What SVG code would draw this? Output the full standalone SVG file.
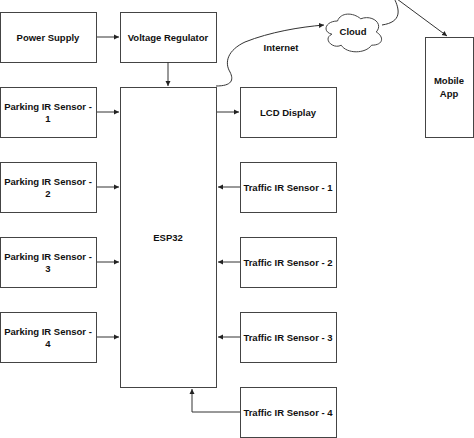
<svg xmlns="http://www.w3.org/2000/svg" width="474" height="438" viewBox="0 0 474 438">
<defs>
<marker id="ah" markerWidth="6" markerHeight="6" refX="5" refY="3" orient="auto" markerUnits="userSpaceOnUse">
<path d="M0,0.5 L5,3 L0,5.5 Z" fill="#222"/>
</marker>
<style>
.box{fill:#fff;stroke:#444;stroke-width:1}
.t{font-family:"Liberation Sans",Arial,sans-serif;font-size:9.5px;font-weight:bold;fill:#111;text-anchor:middle}
.c{fill:none;stroke:#333;stroke-width:1}
</style>
</defs>
<rect width="474" height="438" fill="#fff"/>
<g id="power-supply"><rect class="box" x="0.5" y="12.5" width="96" height="50"/><text class="t" x="48" y="41">Power Supply</text></g>
<g id="voltage-regulator"><rect class="box" x="120.5" y="12.5" width="96" height="50"/><text class="t" x="168" y="41">Voltage Regulator</text></g>
<g id="esp32"><rect class="box" x="120.5" y="87.5" width="96" height="300"/><text class="t" x="168" y="241">ESP32</text></g>
<g id="parking1"><rect class="box" x="0.5" y="87.5" width="96" height="50"/><text class="t" x="48" y="110">Parking IR Sensor -</text><text class="t" x="48" y="122">1</text></g>
<g id="parking2"><rect class="box" x="0.5" y="162.5" width="96" height="50"/><text class="t" x="48" y="185">Parking IR Sensor -</text><text class="t" x="48" y="197">2</text></g>
<g id="parking3"><rect class="box" x="0.5" y="237.5" width="96" height="50"/><text class="t" x="48" y="260">Parking IR Sensor -</text><text class="t" x="48" y="272">3</text></g>
<g id="parking4"><rect class="box" x="0.5" y="312.5" width="96" height="50"/><text class="t" x="48" y="335">Parking IR Sensor -</text><text class="t" x="48" y="347">4</text></g>
<g id="lcd"><rect class="box" x="240.5" y="87.5" width="96" height="50"/><text class="t" x="288" y="116">LCD Display</text></g>
<g id="traffic1"><rect class="box" x="240.5" y="162.5" width="96" height="50"/><text class="t" x="288" y="191">Traffic IR Sensor - 1</text></g>
<g id="traffic2"><rect class="box" x="240.5" y="237.5" width="96" height="50"/><text class="t" x="288" y="266">Traffic IR Sensor - 2</text></g>
<g id="traffic3"><rect class="box" x="240.5" y="312.5" width="96" height="50"/><text class="t" x="288" y="341">Traffic IR Sensor - 3</text></g>
<g id="traffic4"><rect class="box" x="240.5" y="387.5" width="96" height="50"/><text class="t" x="288" y="416">Traffic IR Sensor - 4</text></g>
<g id="mobile-app"><rect class="box" x="425.5" y="37.5" width="48" height="100"/><text class="t" x="449" y="84">Mobile</text><text class="t" x="449" y="97">App</text></g>
<g id="cloud"><path class="box" d="M337.5,21 C325.1,21 322,32 331.9,34.2 C322,39 333.2,49.6 341.2,45.2 C346.8,54 365.4,54 371.6,45.2 C384,45.2 384,36.4 376.25,32 C384,23.2 371.6,14.4 360.75,18.8 C353,12.2 340.6,12.2 337.5,21 Z"/><text class="t" x="353" y="35">Cloud</text></g>
<g id="connectors">
<path class="c" d="M97,37 H119" marker-end="url(#ah)"/>
<path class="c" d="M168,62 V86" marker-end="url(#ah)"/>
<path class="c" d="M97,112 H119" marker-end="url(#ah)"/>
<path class="c" d="M97,187 H119" marker-end="url(#ah)"/>
<path class="c" d="M97,262 H119" marker-end="url(#ah)"/>
<path class="c" d="M97,337 H119" marker-end="url(#ah)"/>
<path class="c" d="M217,112 H239" marker-end="url(#ah)"/>
<path class="c" d="M240,187 H218" marker-end="url(#ah)"/>
<path class="c" d="M240,262 H218" marker-end="url(#ah)"/>
<path class="c" d="M240,337 H218" marker-end="url(#ah)"/>
<path class="c" d="M240,412 H192 V389" marker-end="url(#ah)"/>
<path class="c" d="M216,86 C232,86 234,80 230,72 C224,62 228,50 245,42 C270,32 300,27 324,25" marker-end="url(#ah)"/>
<path class="c" d="M382,25 C402,22 400,10 394,-2 M397,-1 L447,36" marker-end="url(#ah)"/>
</g>
<text class="t" x="281" y="51">Internet</text>
</svg>
